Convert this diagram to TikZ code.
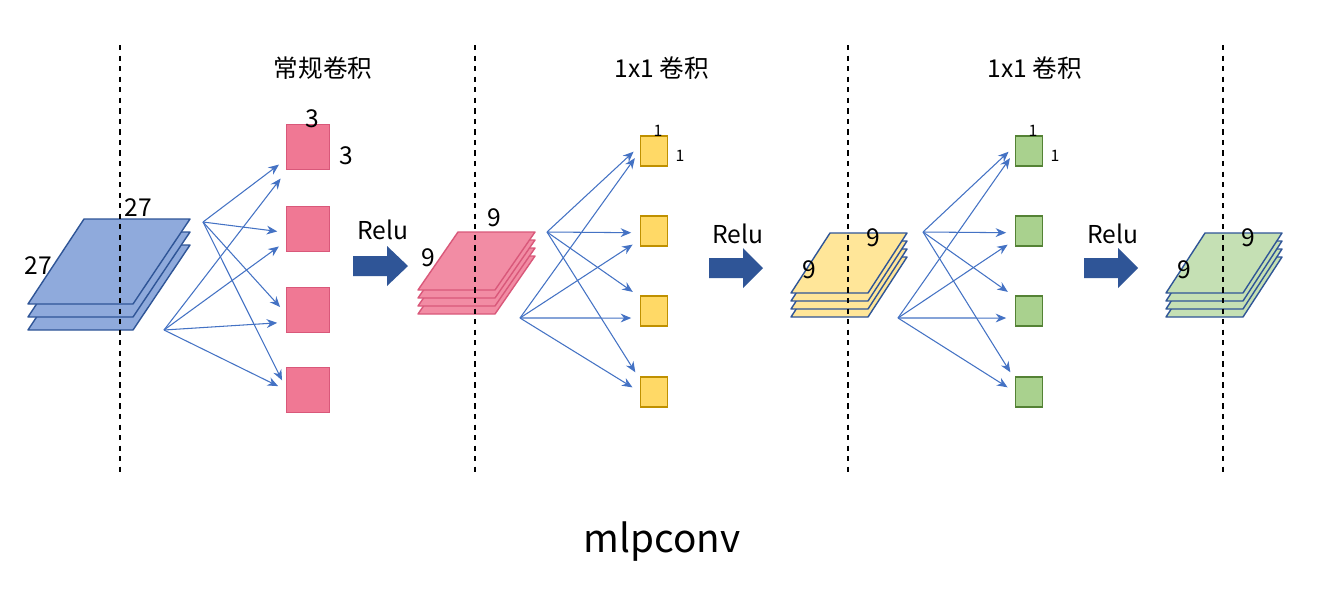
\documentclass[tikz,border=0pt]{standalone}
\usepackage{fontspec}
\setmainfont{Noto Sans CJK SC}
\usetikzlibrary{arrows.meta}
\definecolor{lineblue}{HTML}{4472C4}
\definecolor{darkblue}{HTML}{2F5597}
\definecolor{bluefill}{HTML}{8FAADC}
\definecolor{pinkfill}{HTML}{F07894}
\definecolor{pinkdraw}{HTML}{D9587A}
\definecolor{yelbox}{HTML}{FFD966}
\definecolor{yeldraw}{HTML}{BF9000}
\definecolor{yelfill}{HTML}{FFE699}
\definecolor{grnbox}{HTML}{A9D18E}
\definecolor{grndraw}{HTML}{548235}
\definecolor{grnfill}{HTML}{C5E0B4}
\newcommand\mylayers[9]{%
  \foreach \o in {#9}{%
    \filldraw[fill=#1,draw=#2,line width=0.8pt,line join=round]
      (#3,#7+\o)--(#4,#7+\o)--(#6,#8+\o)--(#5,#8+\o)--cycle;}}
\newcommand\blockarrow[3]{%
  \fill[darkblue] (#1,#3-10)--(#1+34,#3-10)--(#1+34,#3-20)--(#2,#3)--(#1+34,#3+20)--(#1+34,#3+10)--(#1,#3+10)--cycle;}
\tikzset{
  x=0.02cm,y=-0.02cm,
  lbl/.style={font=\fontsize{14}{16}\selectfont,inner sep=0pt},
  small/.style={font=\fontsize{9}{10}\selectfont,inner sep=0pt},
  title/.style={font=\fontsize{14}{16}\selectfont,inner sep=0pt},
  conn/.style={draw=lineblue,line width=0.6pt,-{Stealth[length=6pt,width=5pt]},shorten >=5pt},
  divider/.style={black,dashed,line width=0.6pt},
  pbox/.style={draw=pinkdraw,fill=pinkfill,minimum width=0.86cm,minimum height=0.9cm,inner sep=0pt,line width=0.6pt},
  ybox/.style={draw=yeldraw,fill=yelbox,minimum width=0.54cm,minimum height=0.6cm,inner sep=0pt,line width=0.6pt},
  gbox/.style={draw=grndraw,fill=grnbox,minimum width=0.54cm,minimum height=0.6cm,inner sep=0pt,line width=0.6pt},
}
\begin{document}
\begin{tikzpicture}
\useasboundingbox (0,0) rectangle (1319,596);
\fill[white] (0,0) rectangle (1319,596);
% stacks
\mylayers{bluefill}{darkblue}{84}{190}{28}{133}{219}{304}{26,13,0}
\mylayers{pinkfill!85!white}{pinkdraw}{458}{535}{418}{495}{232}{290}{24,16,8,0}
\mylayers{yelfill}{darkblue}{830}{907}{791}{868}{233}{293}{24,16,8,0}
\mylayers{grnfill}{darkblue}{1205}{1282}{1166}{1243}{233}{293}{24,16,8,0}
% dividers
\foreach \x in {120,475,848,1223} \draw[divider] (\x,45)--(\x,475);
% titles
\node[title] (t1) at (323,68) {常规卷积};
\node[title] (t2) at (662,68) {1x1 卷积};
\node[title] (t3) at (1035,68) {1x1 卷积};
% labels on stacks
\node[lbl] (l27a) at (138,208) {27};
\node[lbl] (l27b) at (38,266) {27};
\node[lbl] (l9a) at (494,218) {9};
\node[lbl] (l9b) at (428,258) {9};
\node[lbl] (l9c) at (873,238) {9};
\node[lbl] (l9d) at (809,270) {9};
\node[lbl] (l9e) at (1248,238) {9};
\node[lbl] (l9f) at (1184,270) {9};
% boxes
\node[pbox] (p1) at (308,147) {};
\node[pbox] (p2) at (308,229) {};
\node[pbox] (p3) at (308,310) {};
\node[pbox] (p4) at (308,390) {};
\node[lbl] (p3a) at (312,119) {3};
\node[lbl] (p3b) at (346,156) {3};
\node[ybox] (y1) at (654,151) {};
\node[ybox] (y2) at (654,231) {};
\node[ybox] (y3) at (654,311) {};
\node[ybox] (y4) at (654,392) {};
\node[small] (y1a) at (658,131) {1};
\node[small] (y1b) at (680,156) {1};
\node[gbox] (g1) at (1029,151) {};
\node[gbox] (g2) at (1029,231) {};
\node[gbox] (g3) at (1029,311) {};
\node[gbox] (g4) at (1029,392) {};
\node[small] (g1a) at (1033,131) {1};
\node[small] (g1b) at (1055,156) {1};
% sources
\coordinate (a1) at (203,222);
\coordinate (a2) at (164,330);
\coordinate (b1) at (547,232);
\coordinate (b2) at (520,318);
\coordinate (c1) at (923,232);
\coordinate (c2) at (898,318);
% connectors group 1
\draw[conn] (a1) -- ([yshift=-7pt]p1.west);
\draw[conn] (a1) -- ([yshift=-2pt]p2.west);
\draw[conn] (a1) -- ([yshift=-2pt]p3.west);
\draw[conn] (a1) -- ([yshift=1pt]p4.west);
\draw[conn] (a2) -- ([yshift=-14pt]p1.west);
\draw[conn] (a2) -- ([yshift=-7pt]p2.west);
\draw[conn] (a2) -- ([yshift=-7pt]p3.west);
\draw[conn] (a2) -- ([yshift=0pt]p4.west);
% connectors group 2
\draw[conn] (b1) -- ([yshift=3pt]y1.west);
\draw[conn] (b1) -- ([yshift=-1pt]y2.west);
\draw[conn] (b1) -- ([yshift=8pt]y3.west);
\draw[conn] (b1) -- ([yshift=7pt]y4.west);
\draw[conn] (b2) -- ([yshift=0pt]y1.west);
\draw[conn] (b2) -- ([yshift=-5pt]y2.west);
\draw[conn] (b2) -- ([yshift=-4pt]y3.west);
\draw[conn] (b2) -- ([yshift=0pt]y4.west);
% connectors group 3
\draw[conn] (c1) -- ([yshift=3pt]g1.west);
\draw[conn] (c1) -- ([yshift=-1pt]g2.west);
\draw[conn] (c1) -- ([yshift=8pt]g3.west);
\draw[conn] (c1) -- ([yshift=7pt]g4.west);
\draw[conn] (c2) -- ([yshift=0pt]g1.west);
\draw[conn] (c2) -- ([yshift=-5pt]g2.west);
\draw[conn] (c2) -- ([yshift=-4pt]g3.west);
\draw[conn] (c2) -- ([yshift=0pt]g4.west);
% Relu arrows
\blockarrow{353}{408}{266}
\blockarrow{709}{763}{268}
\blockarrow{1084}{1138}{268}
\node[lbl] (r1) at (383,230) {Relu};
\node[lbl] (r2) at (738,234) {Relu};
\node[lbl] (r3) at (1113,234) {Relu};
% caption
\node[font=\fontsize{22}{26}\selectfont,inner sep=0pt] (cap) at (662,542) {mlpconv};
\end{tikzpicture}
\end{document}
